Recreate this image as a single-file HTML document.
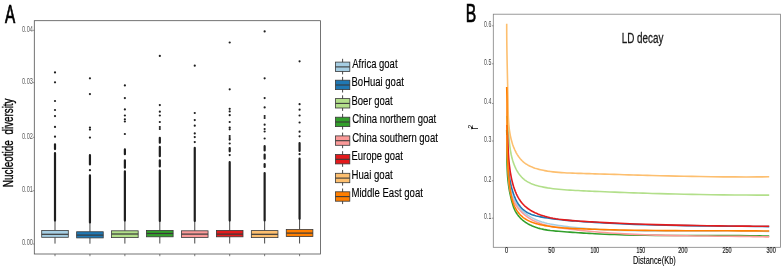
<!DOCTYPE html>
<html lang="en"><head><meta charset="utf-8"><title>Nucleotide diversity and LD decay</title>
<style>html,body{margin:0;padding:0;background:#fff}svg{display:block}</style></head>
<body>
<svg width="782" height="266" viewBox="0 0 782 266" font-family='"Liberation Sans", sans-serif'>
<rect width="782" height="266" fill="#fff"/>
<g id="panelA">
<path d="M55 219.7V230.5M55 237.3V243.6" stroke="#333" stroke-width="0.9" fill="none"/>
<path d="M55 144.3V149.1M55 153.2V220.6" stroke="#1e1e1e" stroke-width="2.2" stroke-linecap="round" fill="none"/>
<circle cx="55" cy="72.4" r="1.1" fill="#1e1e1e"/>
<circle cx="55" cy="82.3" r="1.1" fill="#1e1e1e"/>
<circle cx="55" cy="101" r="1.1" fill="#1e1e1e"/>
<circle cx="55" cy="110" r="1.1" fill="#1e1e1e"/>
<circle cx="55" cy="116.1" r="1.1" fill="#1e1e1e"/>
<circle cx="55" cy="126.9" r="1.1" fill="#1e1e1e"/>
<circle cx="55" cy="136.7" r="1.1" fill="#1e1e1e"/>
<rect x="41.7" y="230.5" width="26.6" height="6.8" fill="#A6CEE3" stroke="#3a3a3a" stroke-width="0.8"/>
<path d="M41.7 234.3H68.3" stroke="#3a3a3a" stroke-width="1.2"/>
<path d="M55 254V256.2" stroke="#444" stroke-width="0.7"/>
<path d="M89.94 221.6V231.75M89.94 237.9V243.7" stroke="#333" stroke-width="0.9" fill="none"/>
<path d="M89.94 155.2V164.5M89.94 175.4V222.5" stroke="#1e1e1e" stroke-width="2.2" stroke-linecap="round" fill="none"/>
<circle cx="89.94" cy="78.3" r="1.1" fill="#1e1e1e"/>
<circle cx="89.94" cy="94.1" r="1.1" fill="#1e1e1e"/>
<circle cx="89.94" cy="127.6" r="1.1" fill="#1e1e1e"/>
<circle cx="89.94" cy="129.6" r="1.1" fill="#1e1e1e"/>
<circle cx="89.94" cy="137.6" r="1.1" fill="#1e1e1e"/>
<circle cx="89.94" cy="170.2" r="1.1" fill="#1e1e1e"/>
<rect x="76.64" y="231.75" width="26.6" height="6.15" fill="#1F78B4" stroke="#3a3a3a" stroke-width="0.8"/>
<path d="M76.64 235.1H103.24" stroke="#3a3a3a" stroke-width="1.2"/>
<path d="M89.94 254V256.2" stroke="#444" stroke-width="0.7"/>
<path d="M124.88 219.7V230.8M124.88 237.6V243.6" stroke="#333" stroke-width="0.9" fill="none"/>
<path d="M124.88 149.4V154.2M124.88 160.3V167.7M124.88 171.3V220.6" stroke="#1e1e1e" stroke-width="2.2" stroke-linecap="round" fill="none"/>
<circle cx="124.88" cy="85.4" r="1.1" fill="#1e1e1e"/>
<circle cx="124.88" cy="98.1" r="1.1" fill="#1e1e1e"/>
<circle cx="124.88" cy="109.4" r="1.1" fill="#1e1e1e"/>
<circle cx="124.88" cy="115.5" r="1.1" fill="#1e1e1e"/>
<circle cx="124.88" cy="119.3" r="1.1" fill="#1e1e1e"/>
<circle cx="124.88" cy="121.5" r="1.1" fill="#1e1e1e"/>
<circle cx="124.88" cy="134" r="1.1" fill="#1e1e1e"/>
<rect x="111.58" y="230.8" width="26.6" height="6.8" fill="#B2DF8A" stroke="#3a3a3a" stroke-width="0.8"/>
<path d="M111.58 234H138.18" stroke="#3a3a3a" stroke-width="1.2"/>
<path d="M124.88 254V256.2" stroke="#444" stroke-width="0.7"/>
<path d="M159.82 220V230.4M159.82 236.8V243.5" stroke="#333" stroke-width="0.9" fill="none"/>
<path d="M159.82 137.8V142.7M159.82 146.9V156.2M159.82 160.3V166.4M159.82 170.6V220.9" stroke="#1e1e1e" stroke-width="2.2" stroke-linecap="round" fill="none"/>
<circle cx="159.82" cy="55.9" r="1.1" fill="#1e1e1e"/>
<circle cx="159.82" cy="105.1" r="1.1" fill="#1e1e1e"/>
<circle cx="159.82" cy="111.7" r="1.1" fill="#1e1e1e"/>
<circle cx="159.82" cy="115.5" r="1.1" fill="#1e1e1e"/>
<circle cx="159.82" cy="122" r="1.1" fill="#1e1e1e"/>
<circle cx="159.82" cy="127" r="1.1" fill="#1e1e1e"/>
<circle cx="159.82" cy="129" r="1.1" fill="#1e1e1e"/>
<rect x="146.52" y="230.4" width="26.6" height="6.4" fill="#33A02C" stroke="#3a3a3a" stroke-width="0.8"/>
<path d="M146.52 233.5H173.12" stroke="#3a3a3a" stroke-width="1.2"/>
<path d="M159.82 254V256.2" stroke="#444" stroke-width="0.7"/>
<path d="M194.76 220.1V230.8M194.76 237.4V243.5" stroke="#333" stroke-width="0.9" fill="none"/>
<path d="M194.76 147.9V221" stroke="#1e1e1e" stroke-width="2.2" stroke-linecap="round" fill="none"/>
<circle cx="194.76" cy="65.7" r="1.1" fill="#1e1e1e"/>
<circle cx="194.76" cy="113" r="1.1" fill="#1e1e1e"/>
<circle cx="194.76" cy="120.1" r="1.1" fill="#1e1e1e"/>
<circle cx="194.76" cy="125.7" r="1.1" fill="#1e1e1e"/>
<circle cx="194.76" cy="133.4" r="1.1" fill="#1e1e1e"/>
<circle cx="194.76" cy="137.1" r="1.1" fill="#1e1e1e"/>
<circle cx="194.76" cy="142.1" r="1.1" fill="#1e1e1e"/>
<rect x="181.46" y="230.8" width="26.6" height="6.6" fill="#FB9A99" stroke="#3a3a3a" stroke-width="0.8"/>
<path d="M181.46 234.1H208.06" stroke="#3a3a3a" stroke-width="1.2"/>
<path d="M194.76 254V256.2" stroke="#444" stroke-width="0.7"/>
<path d="M229.7 219.7V230.4M229.7 236.8V243.5" stroke="#333" stroke-width="0.9" fill="none"/>
<path d="M229.7 148.1V151.3M229.7 162.2V220.6" stroke="#1e1e1e" stroke-width="2.2" stroke-linecap="round" fill="none"/>
<circle cx="229.7" cy="42.5" r="1.1" fill="#1e1e1e"/>
<circle cx="229.7" cy="89.3" r="1.1" fill="#1e1e1e"/>
<circle cx="229.7" cy="108.8" r="1.1" fill="#1e1e1e"/>
<circle cx="229.7" cy="111.4" r="1.1" fill="#1e1e1e"/>
<circle cx="229.7" cy="115.2" r="1.1" fill="#1e1e1e"/>
<circle cx="229.7" cy="122" r="1.1" fill="#1e1e1e"/>
<circle cx="229.7" cy="127.6" r="1.1" fill="#1e1e1e"/>
<circle cx="229.7" cy="129.3" r="1.1" fill="#1e1e1e"/>
<circle cx="229.7" cy="136" r="1.1" fill="#1e1e1e"/>
<circle cx="229.7" cy="138" r="1.1" fill="#1e1e1e"/>
<circle cx="229.7" cy="139.6" r="1.1" fill="#1e1e1e"/>
<circle cx="229.7" cy="143.5" r="1.1" fill="#1e1e1e"/>
<circle cx="229.7" cy="155.1" r="1.1" fill="#1e1e1e"/>
<rect x="216.4" y="230.4" width="26.6" height="6.4" fill="#E31A1C" stroke="#3a3a3a" stroke-width="0.8"/>
<path d="M216.4 234.1H243" stroke="#3a3a3a" stroke-width="1.2"/>
<path d="M229.7 254V256.2" stroke="#444" stroke-width="0.7"/>
<path d="M264.64 219.5V230.6M264.64 237.6V243.5" stroke="#333" stroke-width="0.9" fill="none"/>
<path d="M264.64 146.2V150.4M264.64 154.5V158.7M264.64 164.1V167M264.64 173.1V220.4" stroke="#1e1e1e" stroke-width="2.2" stroke-linecap="round" fill="none"/>
<circle cx="264.64" cy="31.4" r="1.1" fill="#1e1e1e"/>
<circle cx="264.64" cy="78.3" r="1.1" fill="#1e1e1e"/>
<circle cx="264.64" cy="98.1" r="1.1" fill="#1e1e1e"/>
<circle cx="264.64" cy="107.4" r="1.1" fill="#1e1e1e"/>
<circle cx="264.64" cy="116" r="1.1" fill="#1e1e1e"/>
<circle cx="264.64" cy="118" r="1.1" fill="#1e1e1e"/>
<circle cx="264.64" cy="124.7" r="1.1" fill="#1e1e1e"/>
<circle cx="264.64" cy="129" r="1.1" fill="#1e1e1e"/>
<circle cx="264.64" cy="131.5" r="1.1" fill="#1e1e1e"/>
<circle cx="264.64" cy="138.5" r="1.1" fill="#1e1e1e"/>
<rect x="251.34" y="230.6" width="26.6" height="7" fill="#FDBF6F" stroke="#3a3a3a" stroke-width="0.8"/>
<path d="M251.34 234.3H277.94" stroke="#3a3a3a" stroke-width="1.2"/>
<path d="M264.64 254V256.2" stroke="#444" stroke-width="0.7"/>
<path d="M299.58 217.9V229.5M299.58 236.5V243.5" stroke="#333" stroke-width="0.9" fill="none"/>
<path d="M299.58 143V151M299.58 158.6V218.8" stroke="#1e1e1e" stroke-width="2.2" stroke-linecap="round" fill="none"/>
<circle cx="299.58" cy="61.3" r="1.1" fill="#1e1e1e"/>
<circle cx="299.58" cy="104.2" r="1.1" fill="#1e1e1e"/>
<circle cx="299.58" cy="109.7" r="1.1" fill="#1e1e1e"/>
<circle cx="299.58" cy="115.5" r="1.1" fill="#1e1e1e"/>
<circle cx="299.58" cy="122.5" r="1.1" fill="#1e1e1e"/>
<circle cx="299.58" cy="131.7" r="1.1" fill="#1e1e1e"/>
<circle cx="299.58" cy="136.3" r="1.1" fill="#1e1e1e"/>
<circle cx="299.58" cy="154.2" r="1.1" fill="#1e1e1e"/>
<rect x="286.28" y="229.5" width="26.6" height="7" fill="#FF7F00" stroke="#3a3a3a" stroke-width="0.8"/>
<path d="M286.28 233.1H312.88" stroke="#3a3a3a" stroke-width="1.2"/>
<path d="M299.58 254V256.2" stroke="#444" stroke-width="0.7"/>
<rect x="34.3" y="20.7" width="286.3" height="233.3" fill="none" stroke="#505050" stroke-width="0.8"/>
<path d="M32.7 30.3H34.3" stroke="#555" stroke-width="0.6"/>
<path d="M32.7 82.6H34.3" stroke="#555" stroke-width="0.6"/>
<path d="M32.7 137.3H34.3" stroke="#555" stroke-width="0.6"/>
<path d="M32.7 190.7H34.3" stroke="#555" stroke-width="0.6"/>
<path d="M32.7 244H34.3" stroke="#555" stroke-width="0.6"/>
</g>
<g id="legend">
<path d="M342.6 58.8V74.4" stroke="#333" stroke-width="0.9"/>
<rect x="335.4" y="62.1" width="14.4" height="9.4" fill="#A6CEE3" stroke="#3a3a3a" stroke-width="0.8"/>
<path d="M335.4 66.9H349.8" stroke="#3a3a3a" stroke-width="1.1"/>
<path d="M342.6 76.9V92.5" stroke="#333" stroke-width="0.9"/>
<rect x="335.4" y="80.2" width="14.4" height="9.4" fill="#1F78B4" stroke="#3a3a3a" stroke-width="0.8"/>
<path d="M335.4 85H349.8" stroke="#3a3a3a" stroke-width="1.1"/>
<path d="M342.6 95.3V110.9" stroke="#333" stroke-width="0.9"/>
<rect x="335.4" y="98.6" width="14.4" height="9.4" fill="#B2DF8A" stroke="#3a3a3a" stroke-width="0.8"/>
<path d="M335.4 103.4H349.8" stroke="#3a3a3a" stroke-width="1.1"/>
<path d="M342.6 113.9V129.5" stroke="#333" stroke-width="0.9"/>
<rect x="335.4" y="117.2" width="14.4" height="9.4" fill="#33A02C" stroke="#3a3a3a" stroke-width="0.8"/>
<path d="M335.4 122H349.8" stroke="#3a3a3a" stroke-width="1.1"/>
<path d="M342.6 132.6V148.2" stroke="#333" stroke-width="0.9"/>
<rect x="335.4" y="135.9" width="14.4" height="9.4" fill="#FB9A99" stroke="#3a3a3a" stroke-width="0.8"/>
<path d="M335.4 140.7H349.8" stroke="#3a3a3a" stroke-width="1.1"/>
<path d="M342.6 151.2V166.8" stroke="#333" stroke-width="0.9"/>
<rect x="335.4" y="154.5" width="14.4" height="9.4" fill="#E31A1C" stroke="#3a3a3a" stroke-width="0.8"/>
<path d="M335.4 159.3H349.8" stroke="#3a3a3a" stroke-width="1.1"/>
<path d="M342.6 170V185.6" stroke="#333" stroke-width="0.9"/>
<rect x="335.4" y="173.3" width="14.4" height="9.4" fill="#FDBF6F" stroke="#3a3a3a" stroke-width="0.8"/>
<path d="M335.4 178.1H349.8" stroke="#3a3a3a" stroke-width="1.1"/>
<path d="M342.6 188.5V204.1" stroke="#333" stroke-width="0.9"/>
<rect x="335.4" y="191.8" width="14.4" height="9.4" fill="#FF7F00" stroke="#3a3a3a" stroke-width="0.8"/>
<path d="M335.4 196.6H349.8" stroke="#3a3a3a" stroke-width="1.1"/>
</g>
<g id="panelB">
<rect x="493.3" y="14.2" width="287.1" height="233.1" fill="none" stroke="#808080" stroke-width="0.8"/>
<path d="M506.8 135L506.9 137.48L506.98 139.95L507.06 142.42L507.13 144.9L507.2 147.37L507.26 149.85L507.37 153.49L507.48 157.15L507.61 160.82L507.77 164.52L507.96 168.23L508.2 171.97L508.43 175.08L508.72 178.19L509.08 181.29L509.52 184.37L510.07 187.41L510.74 190.4L511.26 192.34L511.85 194.25L512.5 196.12L513.24 197.94L514.06 199.72L514.96 201.45L515.48 202.35L516.03 203.24L516.6 204.11L517.2 204.97L517.82 205.81L518.46 206.63L519.32 207.65L520.2 208.65L521.13 209.62L522.08 210.56L523.07 211.47L524.08 212.35L524.76 212.91L525.45 213.46L526.15 213.99L526.86 214.51L527.58 215.02L528.31 215.52L529.61 216.35L530.93 217.15L532.28 217.9L533.66 218.62L535.05 219.29L536.47 219.92L537.8 220.47L539.15 220.99L540.51 221.47L541.88 221.92L543.27 222.34L544.66 222.74L547.42 223.44L550.22 224.06L553.03 224.6L555.86 225.08L558.7 225.51L561.53 225.91L564.33 226.28L567.12 226.62L569.9 226.95L572.68 227.26L575.45 227.55L578.22 227.82L581 228.08L583.76 228.32L586.53 228.54L589.3 228.76L592.07 228.96L594.84 229.14L599.79 229.45L604.74 229.73L609.71 229.97L614.67 230.18L619.65 230.37L624.62 230.53L634.83 230.78L645.05 230.94L655.28 231.03L665.52 231.06L675.77 231.04L686.02 231L699.93 230.92L713.83 230.84L727.71 230.82L741.57 230.88L755.41 231.06L769.2 231.4" stroke="#A6CEE3" stroke-width="1.6" fill="none" stroke-linejoin="round"/>
<path d="M506.8 130L507.01 133.25L507.18 136.53L507.31 139.82L507.41 143.14L507.5 146.48L507.59 149.83L507.63 151.51L507.68 153.19L507.73 154.88L507.79 156.57L507.85 158.26L507.92 159.95L508.05 162.48L508.21 165.02L508.39 167.55L508.61 170.08L508.88 172.6L509.18 175.11L509.44 176.97L509.73 178.82L510.05 180.67L510.4 182.51L510.79 184.34L511.21 186.17L511.52 187.39L511.84 188.61L512.19 189.83L512.55 191.04L512.93 192.24L513.33 193.44L513.73 194.58L514.15 195.71L514.6 196.83L515.06 197.94L515.55 199.03L516.07 200.11L516.67 201.27L517.3 202.4L517.97 203.5L518.68 204.57L519.43 205.6L520.22 206.59L520.84 207.3L521.48 207.98L522.14 208.64L522.83 209.27L523.54 209.88L524.28 210.47L524.9 210.93L525.54 211.38L526.2 211.81L526.86 212.22L527.54 212.61L528.24 212.98L529.5 213.6L530.8 214.16L532.13 214.67L533.49 215.13L534.87 215.55L536.28 215.93L537.67 216.27L539.08 216.59L540.49 216.87L541.92 217.14L543.35 217.39L544.78 217.63L547.6 218.07L550.41 218.47L553.21 218.85L556 219.2L558.79 219.52L561.57 219.82L564.34 220.1L567.11 220.36L569.87 220.61L572.63 220.84L575.39 221.06L578.15 221.27L580.93 221.48L583.7 221.68L586.48 221.87L589.26 222.06L592.03 222.24L594.81 222.42L599.78 222.72L604.76 223L609.73 223.26L614.71 223.51L619.69 223.75L624.67 223.96L634.96 224.37L645.26 224.72L655.57 225.02L665.88 225.27L676.19 225.49L686.51 225.67L700.31 225.87L714.1 226.04L727.89 226.18L741.68 226.31L755.45 226.45L769.2 226.6" stroke="#1F78B4" stroke-width="1.6" fill="none" stroke-linejoin="round"/>
<path d="M506.8 116L507.01 117.32L507.21 118.64L507.39 119.96L507.55 121.28L507.71 122.6L507.85 123.93L507.95 124.92L508.04 125.92L508.13 126.92L508.21 127.92L508.3 128.92L508.38 129.92L508.48 131.25L508.58 132.58L508.68 133.92L508.78 135.25L508.88 136.59L508.99 137.92L509.11 139.31L509.23 140.7L509.36 142.09L509.5 143.48L509.66 144.87L509.83 146.26L510 147.56L510.18 148.86L510.38 150.16L510.6 151.46L510.84 152.76L511.1 154.06L511.29 154.99L511.5 155.91L511.72 156.84L511.95 157.76L512.19 158.68L512.44 159.59L512.79 160.78L513.17 161.96L513.56 163.13L513.98 164.28L514.42 165.42L514.89 166.54L515.29 167.45L515.71 168.34L516.15 169.22L516.6 170.08L517.07 170.93L517.57 171.76L517.99 172.43L518.42 173.1L518.87 173.75L519.33 174.38L519.81 175.01L520.3 175.61L520.91 176.33L521.55 177.03L522.21 177.7L522.89 178.35L523.59 178.98L524.32 179.57L524.93 180.04L525.57 180.49L526.21 180.93L526.87 181.35L527.55 181.75L528.23 182.13L529.5 182.79L530.8 183.39L532.14 183.95L533.5 184.47L534.89 184.95L536.3 185.39L537.68 185.79L539.08 186.15L540.48 186.49L541.9 186.81L543.32 187.1L544.74 187.37L547.55 187.87L550.35 188.3L553.15 188.69L555.94 189.02L558.74 189.31L561.53 189.56L564.3 189.78L567.07 189.97L569.84 190.14L572.61 190.29L575.38 190.43L578.15 190.57L580.93 190.7L583.71 190.83L586.49 190.95L589.27 191.08L592.05 191.2L594.83 191.33L599.81 191.54L604.78 191.75L609.76 191.95L614.74 192.15L619.72 192.34L624.7 192.52L629.25 192.68L633.8 192.84L638.35 193L642.9 193.14L647.45 193.29L652 193.43L660 193.65L667.99 193.87L675.99 194.07L683.99 194.25L691.99 194.41L699.99 194.56L711.52 194.74L723.06 194.88L734.59 194.99L746.13 195.07L757.66 195.1L769.2 195.1" stroke="#B2DF8A" stroke-width="1.6" fill="none" stroke-linejoin="round"/>
<path d="M506.7 130L506.84 135.05L506.91 140.09L506.93 145.1L506.93 150.1L506.93 155.08L506.96 160.06L507 162.54L507.05 165.02L507.13 167.5L507.23 169.98L507.36 172.45L507.51 174.93L507.7 177.42L507.93 179.9L508.2 182.39L508.51 184.87L508.87 187.36L509.28 189.85L509.65 191.86L510.06 193.88L510.5 195.9L510.97 197.92L511.47 199.94L512 201.96L512.4 203.39L512.82 204.82L513.27 206.23L513.76 207.62L514.3 208.97L514.89 210.3L515.63 211.71L516.43 213.07L517.31 214.38L518.25 215.63L519.26 216.82L520.32 217.96L520.94 218.57L521.57 219.16L522.22 219.74L522.89 220.3L523.57 220.84L524.26 221.37L524.91 221.84L525.57 222.3L526.24 222.74L526.91 223.17L527.6 223.59L528.3 223.99L529.6 224.69L530.93 225.35L532.28 225.97L533.65 226.54L535.03 227.07L536.44 227.57L537.79 228L539.16 228.39L540.53 228.75L541.92 229.08L543.31 229.38L544.71 229.66L547.48 230.12L550.27 230.51L553.08 230.82L555.89 231.09L558.71 231.32L561.53 231.54L564.32 231.74L567.1 231.95L569.88 232.15L572.66 232.34L575.43 232.53L578.19 232.72L580.97 232.9L583.74 233.08L586.52 233.25L589.29 233.41L592.06 233.56L594.83 233.71L599.79 233.96L604.76 234.18L609.72 234.38L614.7 234.56L619.67 234.72L624.65 234.86L634.94 235.09L645.23 235.26L655.54 235.38L665.85 235.45L676.17 235.49L686.49 235.51L697.04 235.51L707.59 235.52L718.14 235.53L728.68 235.56L739.22 235.63L749.74 235.74L752.99 235.79L756.23 235.84L759.48 235.89L762.72 235.95L765.96 236.02L769.2 236.1" stroke="#33A02C" stroke-width="1.6" fill="none" stroke-linejoin="round"/>
<path d="M506.8 135L506.87 137.53L506.95 140.04L507.03 142.54L507.12 145.02L507.21 147.5L507.3 149.97L507.45 153.59L507.6 157.21L507.77 160.84L507.93 164.49L508.11 168.16L508.29 171.87L508.45 174.96L508.64 178.06L508.88 181.16L509.19 184.25L509.6 187.31L510.13 190.33L510.49 192.02L510.9 193.68L511.37 195.33L511.89 196.94L512.48 198.53L513.13 200.08L513.66 201.21L514.22 202.31L514.83 203.4L515.46 204.46L516.14 205.51L516.84 206.53L517.94 208L519.1 209.42L520.33 210.79L521.61 212.11L522.96 213.38L524.36 214.59L524.98 215.11L525.62 215.61L526.26 216.1L526.92 216.59L527.58 217.06L528.25 217.52L529.54 218.36L530.86 219.17L532.2 219.93L533.56 220.65L534.95 221.33L536.35 221.97L537.72 222.55L539.11 223.08L540.51 223.58L541.92 224.05L543.34 224.48L544.78 224.89L547.52 225.58L550.3 226.18L553.1 226.72L555.91 227.19L558.74 227.63L561.56 228.03L564.34 228.41L567.11 228.78L569.88 229.13L572.64 229.47L575.41 229.79L578.17 230.11L580.94 230.41L583.72 230.7L586.49 230.98L589.27 231.25L592.04 231.51L594.82 231.76L599.78 232.18L604.75 232.57L609.73 232.93L614.7 233.26L619.68 233.57L624.67 233.86L634.95 234.37L645.24 234.79L655.54 235.13L665.85 235.41L676.17 235.63L686.48 235.8L697.03 235.95L707.59 236.07L718.13 236.18L728.68 236.28L739.21 236.4L749.74 236.54L752.99 236.59L756.23 236.64L759.48 236.7L762.72 236.76L765.96 236.83L769.2 236.9" stroke="#FB9A99" stroke-width="1.6" fill="none" stroke-linejoin="round"/>
<path d="M506.9 125L507.08 127.49L507.25 129.98L507.39 132.47L507.52 134.96L507.64 137.45L507.75 139.95L507.82 141.61L507.89 143.28L507.97 144.94L508.04 146.61L508.12 148.27L508.21 149.94L508.29 151.54L508.39 153.15L508.49 154.76L508.6 156.36L508.71 157.97L508.84 159.57L508.95 160.76L509.06 161.95L509.17 163.14L509.3 164.33L509.43 165.52L509.57 166.71L509.82 168.65L510.09 170.6L510.4 172.54L510.73 174.49L511.09 176.43L511.49 178.37L511.86 180.08L512.27 181.79L512.71 183.48L513.18 185.17L513.68 186.84L514.23 188.5L514.73 189.91L515.27 191.31L515.84 192.69L516.44 194.04L517.08 195.37L517.75 196.68L518.1 197.32L518.47 197.95L518.84 198.58L519.22 199.19L519.61 199.8L520.01 200.4L520.26 200.76L520.51 201.11L520.77 201.46L521.03 201.81L521.3 202.16L521.56 202.5L521.99 203.02L522.43 203.54L522.88 204.05L523.34 204.54L523.81 205.03L524.29 205.51L524.91 206.09L525.54 206.65L526.19 207.2L526.85 207.74L527.53 208.26L528.23 208.76L529.51 209.63L530.83 210.46L532.19 211.23L533.58 211.97L535.01 212.66L536.46 213.32L537.81 213.89L539.18 214.42L540.57 214.93L541.97 215.4L543.37 215.85L544.79 216.27L547.53 217.01L550.28 217.66L553.04 218.23L555.81 218.73L558.6 219.17L561.39 219.54L564.16 219.86L566.94 220.14L569.72 220.39L572.5 220.61L575.29 220.81L578.08 221L580.88 221.18L583.67 221.36L586.47 221.54L589.26 221.71L592.06 221.87L594.85 222.04L599.84 222.31L604.84 222.58L609.83 222.83L614.81 223.07L619.8 223.3L624.79 223.52L635.07 223.93L645.36 224.3L655.64 224.63L665.92 224.91L676.2 225.16L686.48 225.38L696.99 225.57L707.51 225.74L718.04 225.87L728.57 225.99L739.1 226.09L749.65 226.17L752.9 226.2L756.16 226.22L759.42 226.24L762.68 226.26L765.94 226.28L769.2 226.3" stroke="#E31A1C" stroke-width="1.6" fill="none" stroke-linejoin="round"/>
<path d="M506.7 23.7L506.7 28.12L506.72 32.52L506.75 36.92L506.79 41.31L506.85 45.69L506.91 50.07L507 55.05L507.09 60.03L507.19 65.01L507.3 69.99L507.41 74.96L507.53 79.94L507.62 84.09L507.71 88.24L507.8 92.4L507.89 96.56L507.97 100.73L508.04 104.9L508.08 107.41L508.13 109.93L508.18 112.44L508.26 114.96L508.35 117.47L508.48 119.98L508.58 121.66L508.7 123.34L508.85 125.01L509.01 126.69L509.2 128.36L509.41 130.03L509.62 131.47L509.85 132.91L510.1 134.36L510.38 135.79L510.68 137.23L511.01 138.66L511.27 139.72L511.55 140.77L511.84 141.82L512.15 142.86L512.48 143.9L512.82 144.93L513.17 145.91L513.53 146.89L513.92 147.86L514.32 148.81L514.73 149.76L515.17 150.69L515.56 151.49L515.97 152.28L516.4 153.06L516.84 153.82L517.29 154.58L517.76 155.32L518.22 156.01L518.7 156.7L519.19 157.36L519.7 158.02L520.22 158.66L520.76 159.28L521.3 159.87L521.86 160.45L522.43 161.01L523.01 161.55L523.61 162.07L524.23 162.58L524.87 163.07L525.52 163.54L526.19 164L526.87 164.43L527.56 164.85L528.27 165.26L529.54 165.92L530.84 166.54L532.17 167.11L533.54 167.64L534.92 168.14L536.33 168.59L537.7 168.99L539.09 169.37L540.49 169.71L541.89 170.03L543.3 170.33L544.72 170.6L547.51 171.09L550.3 171.51L553.09 171.87L555.88 172.17L558.67 172.42L561.46 172.63L564.24 172.8L567.01 172.94L569.79 173.06L572.56 173.16L575.34 173.25L578.11 173.33L580.9 173.41L583.69 173.49L586.48 173.58L589.27 173.66L592.06 173.74L594.84 173.83L599.71 173.97L604.58 174.12L609.45 174.27L614.32 174.42L619.18 174.56L624.05 174.71L628.71 174.84L633.37 174.98L638.04 175.11L642.7 175.25L647.36 175.37L652.02 175.5L660.01 175.71L668 175.91L675.99 176.09L683.97 176.26L691.96 176.42L699.95 176.55L711.48 176.72L723 176.84L734.54 176.91L746.08 176.93L757.64 176.9L769.2 176.8" stroke="#FDBF6F" stroke-width="1.6" fill="none" stroke-linejoin="round"/>
<path d="M506.7 87L506.81 90.89L506.9 94.76L506.96 98.62L507 102.47L507.02 106.31L507.03 110.14L507.03 114.79L507.03 119.44L507.03 124.07L507.03 128.7L507.03 133.33L507.03 137.96L507.06 141.59L507.1 145.23L507.17 148.87L507.27 152.52L507.39 156.17L507.54 159.83L507.63 161.78L507.73 163.74L507.85 165.69L507.97 167.65L508.1 169.61L508.25 171.58L508.45 174.1L508.68 176.62L508.93 179.15L509.2 181.68L509.49 184.22L509.81 186.77L510.12 189.09L510.47 191.41L510.86 193.71L511.3 195.99L511.81 198.24L512.4 200.45L512.8 201.76L513.23 203.04L513.7 204.31L514.21 205.54L514.76 206.76L515.36 207.94L516.04 209.17L516.78 210.36L517.57 211.51L518.41 212.62L519.29 213.69L520.23 214.72L520.83 215.32L521.45 215.91L522.08 216.48L522.73 217.03L523.4 217.56L524.09 218.07L524.73 218.51L525.39 218.95L526.06 219.36L526.74 219.76L527.43 220.14L528.14 220.51L529.44 221.14L530.77 221.73L532.13 222.27L533.52 222.77L534.93 223.23L536.36 223.66L537.75 224.05L539.15 224.4L540.55 224.73L541.97 225.04L543.39 225.32L544.81 225.59L547.61 226.08L550.41 226.5L553.2 226.88L555.99 227.21L558.78 227.49L561.56 227.74L564.33 227.95L567.1 228.14L569.86 228.3L572.62 228.45L575.39 228.58L578.15 228.7L580.93 228.81L583.7 228.92L586.48 229.03L589.26 229.13L592.04 229.23L594.82 229.32L599.79 229.48L604.76 229.62L609.74 229.76L614.72 229.88L619.7 229.99L624.68 230.09L634.89 230.27L645.11 230.41L655.33 230.51L665.55 230.6L675.78 230.66L686 230.7L699.88 230.74L713.75 230.77L727.63 230.79L741.49 230.84L755.35 230.9L769.2 231" stroke="#FF7F00" stroke-width="1.6" fill="none" stroke-linejoin="round"/>
<path d="M491.9 25.8H493.3" stroke="#555" stroke-width="0.6"/>
<path d="M491.9 63.8H493.3" stroke="#555" stroke-width="0.6"/>
<path d="M491.9 103.5H493.3" stroke="#555" stroke-width="0.6"/>
<path d="M491.9 141H493.3" stroke="#555" stroke-width="0.6"/>
<path d="M491.9 180.8H493.3" stroke="#555" stroke-width="0.6"/>
<path d="M491.9 218.2H493.3" stroke="#555" stroke-width="0.6"/>
</g>
<g id="labels">
<text transform="translate(4.9,22.5) scale(0.6059,1)" x="0" font-size="25.3" fill="#000" stroke="#000" stroke-width="0.6" vector-effect="non-scaling-stroke">A</text>
<text transform="translate(467.1,21.6) scale(0.6143,1)" x="-2" font-size="25.6" fill="#000" stroke="#000" stroke-width="0.6" vector-effect="non-scaling-stroke">B</text>
<text transform="translate(22,31.5) scale(0.6441,1)" x="0" font-size="8.7" fill="#606060">0.04</text>
<text transform="translate(22,83.8) scale(0.6441,1)" x="0" font-size="8.7" fill="#606060">0.03</text>
<text transform="translate(22,138.5) scale(0.6441,1)" x="0" font-size="8.7" fill="#606060">0.02</text>
<text transform="translate(22,191.9) scale(0.6441,1)" x="0" font-size="8.7" fill="#606060">0.01</text>
<text transform="translate(22,245.2) scale(0.6441,1)" x="0" font-size="8.7" fill="#606060">0.00</text>
<text transform="translate(12.8,186.5) rotate(-90) scale(0.6967,1)" x="-1" font-size="14.3" fill="#000" stroke="#000" stroke-width="0.3" vector-effect="non-scaling-stroke">Nucleotide</text>
<text transform="translate(12.8,134.5) rotate(-90) scale(0.6869,1)" x="0" font-size="14.3" fill="#000" stroke="#000" stroke-width="0.3" vector-effect="non-scaling-stroke">diversity</text>
<text transform="translate(352.2,67.65) scale(0.6933,1)" x="0" font-size="13.7" fill="#000" stroke="#000" stroke-width="0.12" vector-effect="non-scaling-stroke">Africa goat</text>
<text transform="translate(352.2,86.45) scale(0.6950,1)" x="-1" font-size="13.7" fill="#000" stroke="#000" stroke-width="0.12" vector-effect="non-scaling-stroke">BoHuai goat</text>
<text transform="translate(352.2,104.85) scale(0.6934,1)" x="-1" font-size="13.7" fill="#000" stroke="#000" stroke-width="0.12" vector-effect="non-scaling-stroke">Boer goat</text>
<text transform="translate(352.2,123.25) scale(0.6948,1)" x="0" font-size="13.7" fill="#000" stroke="#000" stroke-width="0.12" vector-effect="non-scaling-stroke">China northern goat</text>
<text transform="translate(352.2,142.05) scale(0.6949,1)" x="0" font-size="13.7" fill="#000" stroke="#000" stroke-width="0.12" vector-effect="non-scaling-stroke">China southern goat</text>
<text transform="translate(352.2,160.45) scale(0.6899,1)" x="-1" font-size="13.7" fill="#000" stroke="#000" stroke-width="0.12" vector-effect="non-scaling-stroke">Europe goat</text>
<text transform="translate(352.2,179.15) scale(0.7025,1)" x="-1" font-size="13.7" fill="#000" stroke="#000" stroke-width="0.12" vector-effect="non-scaling-stroke">Huai goat</text>
<text transform="translate(352.2,197.45) scale(0.7009,1)" x="-1" font-size="13.7" fill="#000" stroke="#000" stroke-width="0.12" vector-effect="non-scaling-stroke">Middle East goat</text>
<text transform="translate(622.3,42.7) scale(0.6726,1)" x="-1" font-size="14.7" fill="#1a1a1a" stroke="#1a1a1a" stroke-width="0.25" vector-effect="non-scaling-stroke">LD decay</text>
<text transform="translate(632.9,263.6) scale(0.6285,1)" x="0" font-size="11.8" fill="#000" stroke="#000" stroke-width="0.1" vector-effect="non-scaling-stroke">Distance(Kb)</text>
<text transform="translate(484.1,26.7) scale(0.6039,1)" x="0" font-size="8.5" fill="#484848">0.6</text>
<text transform="translate(484.1,64.7) scale(0.6039,1)" x="0" font-size="8.5" fill="#484848">0.5</text>
<text transform="translate(484.1,104.4) scale(0.6039,1)" x="0" font-size="8.5" fill="#484848">0.4</text>
<text transform="translate(484.1,141.9) scale(0.6039,1)" x="0" font-size="8.5" fill="#484848">0.3</text>
<text transform="translate(484.1,181.7) scale(0.6039,1)" x="0" font-size="8.5" fill="#484848">0.2</text>
<text transform="translate(484.1,219.1) scale(0.6039,1)" x="0" font-size="8.5" fill="#484848">0.1</text>
<text transform="translate(505.1,252.9) scale(0.6600,1)" x="0" font-size="8.5" fill="#2a2a2a" stroke="#2a2a2a" stroke-width="0.2" vector-effect="non-scaling-stroke">0</text>
<text transform="translate(548.2,252.9) scale(0.6785,1)" x="0" font-size="8.5" fill="#2a2a2a" stroke="#2a2a2a" stroke-width="0.2" vector-effect="non-scaling-stroke">50</text>
<text transform="translate(590.6,252.9) scale(0.5950,1)" x="0" font-size="8.5" fill="#2a2a2a" stroke="#2a2a2a" stroke-width="0.2" vector-effect="non-scaling-stroke">100</text>
<text transform="translate(636.55,252.9) scale(0.6019,1)" x="0" font-size="8.5" fill="#2a2a2a" stroke="#2a2a2a" stroke-width="0.2" vector-effect="non-scaling-stroke">150</text>
<text transform="translate(678.3,252.9) scale(0.6503,1)" x="0" font-size="8.5" fill="#2a2a2a" stroke="#2a2a2a" stroke-width="0.2" vector-effect="non-scaling-stroke">200</text>
<text transform="translate(722.4,252.9) scale(0.6503,1)" x="0" font-size="8.5" fill="#2a2a2a" stroke="#2a2a2a" stroke-width="0.2" vector-effect="non-scaling-stroke">250</text>
<text transform="translate(766.5,252.9) scale(0.6503,1)" x="0" font-size="8.5" fill="#2a2a2a" stroke="#2a2a2a" stroke-width="0.2" vector-effect="non-scaling-stroke">300</text>
<text transform="translate(477.9,129.8) rotate(-90) scale(0.72,1)" font-size="13" fill="#000">r</text>
<text transform="translate(472.6,128.5) rotate(-90)" font-size="6.6" fill="#000">2</text>
</g>
</svg>
</body></html>
